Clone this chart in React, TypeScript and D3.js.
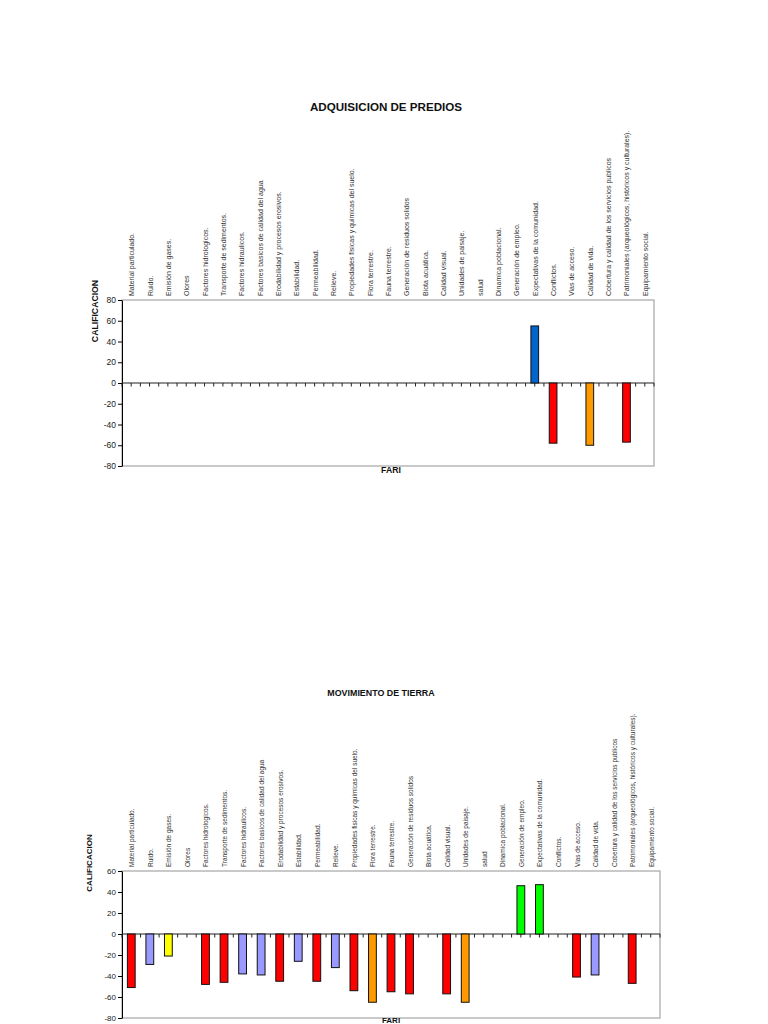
import React, { useEffect, useRef } from "react";
import * as d3 from "d3";

// factores ambientales evaluados (eje X de las dos gráficas)
const categories = [
  "Material particulado.",
  "Ruido.",
  "Emisión de gases.",
  "Olores",
  "Factores hidrologicos.",
  "Transporte de sedimentos.",
  "Factores hidraulicos.",
  "Factores basicos de calidad del agua",
  "Erodabilidad y procesos erosivos.",
  "Estabilidad.",
  "Permeabilidad.",
  "Relieve.",
  "Propiedades fisicas y quimicas del suelo.",
  "Flora terrestre.",
  "Fauna terrestre.",
  "Generación de residuos solidos",
  "Biota acuática.",
  "Calidad visual.",
  "Unidades de paisaje.",
  "salud",
  "Dinamica poblacional.",
  "Generación de empleo.",
  "Expectativas de la comunidad.",
  "Conflictos.",
  "Vias de acceso.",
  "Calidad de vida.",
  "Cobertura y calidad de los servicios publicos",
  "Patrimoniales (arqueológicos, históricos y culturales).",
  "Equipamiento social.",
];

const adquisicionValues = [
  0, 0, 0, 0, 0, 0, 0, 0, 0, 0, 0, 0, 0, 0, 0,
  0, 0, 0, 0, 0, 0, 0, 55, -58, 0, -60, 0, -57, 0,
];
const adquisicionClasses = [
  "", "", "", "", "", "", "", "", "", "", "", "", "", "", "",
  "", "", "", "", "", "", "", "azul", "rojo", "", "naranja", "", "rojo", "",
];
const adquisicionTicks = [80, 60, 40, 20, 0, -20, -40, -60, -80];

const movimientoValues = [
  -51, -29, -21, 0, -48, -46, -38, -39, -45, -26, -45, -32, -54, -65, -55,
  -57, 0, -57, -65, 0, 0, 46, 47, 0, -41, -39, 0, -47, 0,
];
const movimientoClasses = [
  "rojo", "lila", "amarillo", "", "rojo", "rojo", "lila", "lila", "rojo", "lila",
  "rojo", "lila", "rojo", "naranja", "rojo", "rojo", "", "rojo", "naranja", "",
  "", "verde", "verde", "", "rojo", "lila", "", "rojo", "",
];
const movimientoTicks = [60, 40, 20, 0, -20, -40, -60, -80];

const classColor = d3
  .scaleOrdinal<string, string>()
  .domain(["rojo", "naranja", "lila", "amarillo", "verde", "azul"])
  .range(["#FF0000", "#FF9900", "#9999FF", "#FFFF00", "#00FF00", "#0066CC"]);

const FONT = "'Liberation Sans', Arial, sans-serif";

function drawChart(svg, cfg, values, classes, ticks) {
  const g = svg.append("g");
  const { left, right, top, bottom } = cfg;

  const x = d3.scaleBand().domain(categories).range([left, right]);
  const y = d3
    .scaleLinear()
    .domain([d3.min(ticks), d3.max(ticks)])
    .range([bottom, top]);

  // marco del área de trazado
  g.append("rect")
    .attr("x", left)
    .attr("y", top)
    .attr("width", right - left)
    .attr("height", bottom - top)
    .attr("fill", "white")
    .attr("stroke", "#a6a6a6")
    .attr("stroke-width", 1.2);

  // eje Y (guion normal en los negativos, como en la hoja original)
  const yAxis = g
    .append("g")
    .attr("transform", `translate(${left},0)`)
    .call(
      d3
        .axisLeft(y)
        .tickValues(ticks)
        .tickFormat((d) => String(d))
        .tickSize(4)
        .tickSizeOuter(0)
        .tickPadding(2)
    );
  yAxis.select(".domain").attr("stroke", "#000");
  yAxis.selectAll("text").attr("font-family", FONT).attr("font-size", cfg.tickSize).attr("fill", "#222");

  // línea del cero con marcas cada media categoría
  const bw = x.bandwidth();
  const halfTicks = d3.range(0, categories.length * 2 + 1).map((i) => left + (i * bw) / 2);
  g.append("line")
    .attr("x1", left)
    .attr("x2", right)
    .attr("y1", y(0))
    .attr("y2", y(0))
    .attr("stroke", "#222")
    .attr("stroke-width", 1.2);
  g.selectAll("line.xt")
    .data(halfTicks)
    .join("line")
    .attr("class", "xt")
    .attr("x1", (d) => d)
    .attr("x2", (d) => d)
    .attr("y1", y(0))
    .attr("y2", y(0) + 3.5)
    .attr("stroke", "#222")
    .attr("stroke-width", 1);

  // barras
  const barW = bw * 0.42;
  const data = categories
    .map((c, i) => ({ c, v: values[i], k: classes[i] }))
    .filter((d) => d.v !== 0);
  g.selectAll("rect.bar")
    .data(data)
    .join("rect")
    .attr("class", "bar")
    .attr("x", (d) => x(d.c) + bw / 2 - barW / 2)
    .attr("y", (d) => Math.min(y(d.v), y(0)))
    .attr("width", barW)
    .attr("height", (d) => Math.abs(y(d.v) - y(0)))
    .attr("fill", (d) => classColor(d.k))
    .attr("stroke", "#111")
    .attr("stroke-width", 1);

  // etiquetas de categoría verticales
  g.selectAll("text.cat")
    .data(categories)
    .join("text")
    .attr("class", "cat")
    .attr("transform", (d) => `translate(${x(d) + bw / 2 + 3},${top - 4}) rotate(-90)`)
    .attr("font-family", FONT)
    .attr("font-size", cfg.catSize)
    .attr("fill", "#333")
    .text((d) => d);

  // títulos
  g.append("text")
    .attr("x", cfg.titleX)
    .attr("y", cfg.titleY)
    .attr("text-anchor", "middle")
    .attr("font-family", FONT)
    .attr("font-weight", "bold")
    .attr("font-size", cfg.titleSize)
    .attr("fill", "#111")
    .text(cfg.title);

  g.append("text")
    .attr("transform", `translate(${cfg.yTitleX},${cfg.yTitleY}) rotate(-90)`)
    .attr("text-anchor", "middle")
    .attr("font-family", FONT)
    .attr("font-weight", "bold")
    .attr("font-size", cfg.axisTitleSize)
    .attr("fill", "#111")
    .text("CALIFICACION");

  g.append("text")
    .attr("x", cfg.xTitleX)
    .attr("y", cfg.xTitleY)
    .attr("text-anchor", "middle")
    .attr("font-family", FONT)
    .attr("font-weight", "bold")
    .attr("font-size", cfg.axisTitleSize)
    .attr("fill", "#111")
    .text("FARI");
}

const App = () => {
  const svgRef = useRef(null);

  useEffect(() => {
    const svg = d3.select(svgRef.current);
    svg.selectAll("*").remove();

    drawChart(
      svg,
      {
        title: "ADQUISICION DE PREDIOS",
        titleX: 386, titleY: 111, titleSize: 11.6,
        left: 122, right: 654, top: 300, bottom: 466,
        tickSize: 8.5, catSize: 7, axisTitleSize: 8.7,
        yTitleX: 98, yTitleY: 311,
        xTitleX: 391, xTitleY: 473,
      },
      adquisicionValues,
      adquisicionClasses,
      adquisicionTicks
    );

    drawChart(
      svg,
      {
        title: "MOVIMIENTO DE TIERRA",
        titleX: 381, titleY: 696, titleSize: 8.9,
        left: 122, right: 660, top: 871, bottom: 1018,
        tickSize: 8, catSize: 6.5, axisTitleSize: 8,
        yTitleX: 92, yTitleY: 863,
        xTitleX: 391, xTitleY: 1023,
      },
      movimientoValues,
      movimientoClasses,
      movimientoTicks
    );
  }, []);

  return (
    <svg
      ref={svgRef}
      width={768}
      height={1024}
      style={{ position: "absolute", left: 0, top: 0, background: "white" }}
    ></svg>
  );
};

export default App;
